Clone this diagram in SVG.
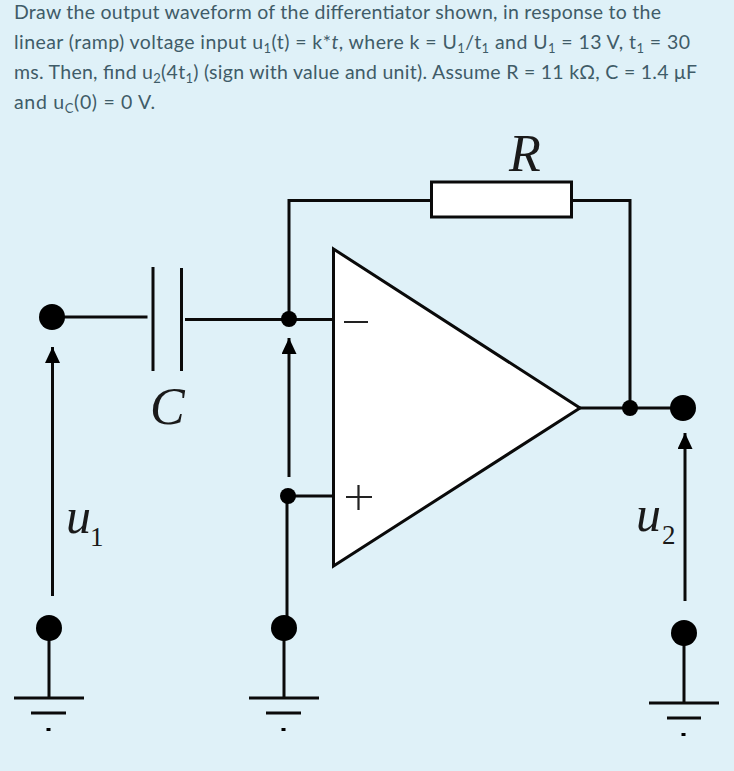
<svg xmlns="http://www.w3.org/2000/svg" width="734" height="771" viewBox="0 0 734 771">
<defs>
<style>
.q{font-family:Lato,"Liberation Sans",sans-serif;font-size:19.5px;fill:#3f5c68}
.s{font-size:13px}
.w{fill:none;stroke:#0a0a0a;stroke-width:3}
.t{fill:none;stroke:#222;stroke-width:2.200}
.d{fill:#000}
.v{font-family:"Liberation Serif",serif;fill:#1a1a1a}
.i{font-style:italic}
</style>
<marker id="a" markerWidth="16" markerHeight="15" refX="16" refY="7.5" orient="auto" markerUnits="userSpaceOnUse"><path d="M0 0L16 7.5L0 15Z" fill="#000"/></marker>
</defs>
<rect width="734" height="771" fill="#dff1f8"/>
<g id="question">
<text class="q" x="14" y="19" textLength="647">Draw the output waveform of the differentiator shown, in response to the</text>
<text class="q" x="14" y="49" textLength="676">linear (ramp) voltage input u<tspan class="s" dy="4">1</tspan><tspan dy="-4">(t) = k*</tspan><tspan font-style="italic">t</tspan>, where k = U<tspan class="s" dy="4">1</tspan><tspan dy="-4">/t</tspan><tspan class="s" dy="4">1</tspan><tspan dy="-4"> and U</tspan><tspan class="s" dy="4">1</tspan><tspan dy="-4"> = 13 V, t</tspan><tspan class="s" dy="4">1</tspan><tspan dy="-4"> = 30</tspan></text>
<text class="q" x="14" y="79" textLength="683">ms. Then, find u<tspan class="s" dy="4">2</tspan><tspan dy="-4">(4t</tspan><tspan class="s" dy="4">1</tspan><tspan dy="-4">) (sign with value and unit). Assume R = 11 kΩ, C = 1.4 μF</tspan></text>
<text class="q" x="14" y="109" textLength="141">and u<tspan class="s" dy="4">C</tspan><tspan dy="-4">(0) = 0 V.</tspan></text>
</g>
<g id="connectors">
<path class="w" d="M52 317H147.500"/>
<path class="w" d="M185 319.500H333"/>
<path class="w" d="M289 319V200.500H431"/>
<path class="w" d="M572 200.500H630V408"/>
<path class="w" d="M580 408H683"/>
<path class="w" d="M288 496H333"/>
<path class="w" d="M287 496V628"/>
<path class="w" d="M52.500 596V347" marker-end="url(#a)"/>
<path class="w" d="M289 477V338" marker-end="url(#a)"/>
<path class="w" d="M685 601V433" marker-end="url(#a)"/>
<path class="w" d="M49 628V698M284 628V698M684 633V703"/>
</g>
<g id="capacitor">
<path class="w" d="M153 267V371M181.500 268V371"/>
<text class="v i" x="150" y="424" font-size="52">C</text>
</g>
<g id="resistor">
<rect x="431.500" y="182" width="140" height="35" fill="#fff" stroke="#0a0a0a" stroke-width="3"/>
<text class="v i" x="509" y="171" font-size="52">R</text>
</g>
<g id="opamp">
<path d="M333.500 249L580 408L333.500 566Z" fill="#fff" stroke="#0a0a0a" stroke-width="3"/>
<path class="t" d="M344 322H368M346 497H372M358.500 485V510"/>
</g>
<g id="node-input"><circle class="d" cx="52" cy="317" r="13"/></g>
<g id="node-inverting"><circle class="d" cx="289" cy="319" r="8"/></g>
<g id="node-noninverting"><circle class="d" cx="288" cy="496" r="8"/></g>
<g id="node-feedback"><circle class="d" cx="630" cy="408" r="8"/></g>
<g id="node-output"><circle class="d" cx="683" cy="408" r="13"/></g>
<g id="ground-left">
<circle class="d" cx="49" cy="628" r="13"/>
<path class="w" d="M14 698H84M31 713H66"/>
<rect class="d" x="46.500" y="728" width="4" height="3"/>
</g>
<g id="ground-middle">
<circle class="d" cx="284" cy="628" r="13"/>
<path class="w" d="M249 698H319M266 713H301"/>
<rect class="d" x="281.500" y="728" width="4" height="3"/>
</g>
<g id="ground-right">
<circle class="d" cx="684" cy="633" r="13"/>
<path class="w" d="M649 703H719M667 718H701"/>
<rect class="d" x="681.500" y="733" width="4" height="3"/>
</g>
<g id="label-u1">
<text class="v i" x="66" y="533" font-size="50">u</text>
<text class="v" x="90" y="546" font-size="27">1</text>
</g>
<g id="label-u2">
<text class="v i" x="636" y="531" font-size="50">u</text>
<text class="v" x="662" y="544" font-size="27">2</text>
</g>
</svg>
